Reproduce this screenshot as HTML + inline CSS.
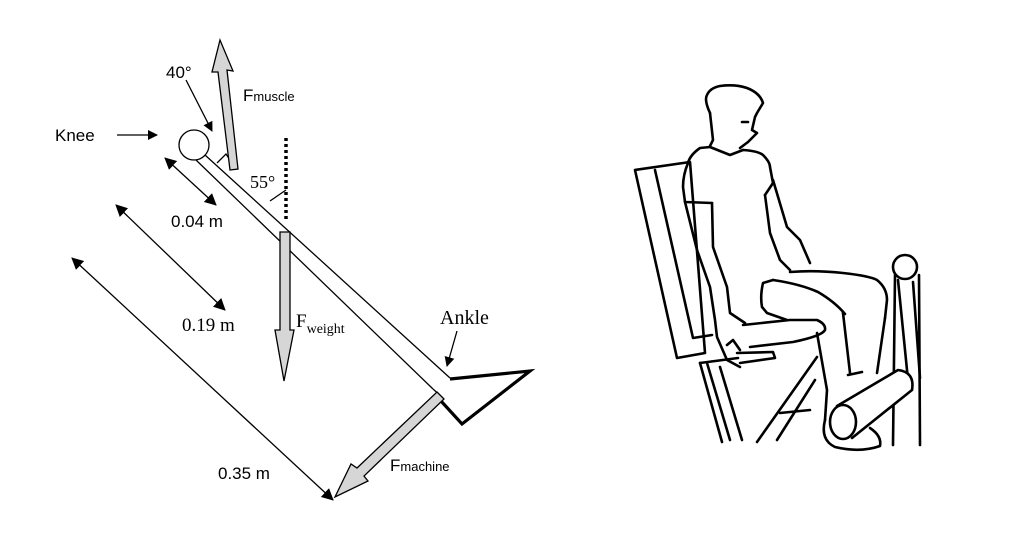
<!DOCTYPE html>
<html><head><meta charset="utf-8"><style>
html,body{margin:0;padding:0;background:#fff;}
svg{display:block;}
text{font-family:"Liberation Sans",sans-serif;}
.serif{font-family:"Liberation Serif",serif;}
</style></head><body>
<svg width="1024" height="533" viewBox="0 0 1024 533" xmlns="http://www.w3.org/2000/svg">
<defs>
<marker id="ah" markerWidth="10" markerHeight="10" refX="9" refY="5" orient="auto" markerUnits="userSpaceOnUse" viewBox="0 0 10 10">
<path d="M0,0 L10,5 L0,10 z" fill="#000"/></marker>
<marker id="ah2" markerWidth="12" markerHeight="12" refX="11" refY="6" orient="auto-start-reverse" markerUnits="userSpaceOnUse" viewBox="0 0 12 12">
<path d="M0,0 L12,6 L0,12 z" fill="#000"/></marker>
</defs>
<g stroke="#000" fill="none" stroke-width="1.3">
<circle cx="194" cy="145" r="15" fill="#fff"/>
<line x1="205" y1="155" x2="450" y2="378"/>
<line x1="196" y1="160" x2="433" y2="389"/>
<line x1="433" y1="389" x2="443" y2="398"/>
<polyline points="450,379 530,371 462,424 441,401" stroke-width="3.2" stroke-linejoin="miter"/>
<line x1="117" y1="135" x2="157" y2="135" marker-end="url(#ah)"/>
<line x1="186" y1="80" x2="212" y2="131" marker-end="url(#ah)"/>
<line x1="457" y1="331" x2="447" y2="366" marker-end="url(#ah)"/>
<line x1="165" y1="158" x2="216" y2="205" marker-start="url(#ah2)" marker-end="url(#ah2)"/>
<line x1="116" y1="205" x2="225" y2="310" marker-start="url(#ah2)" marker-end="url(#ah2)"/>
<line x1="72" y1="258" x2="333" y2="500" marker-start="url(#ah2)" marker-end="url(#ah2)"/>
<polyline points="217,163 226,154 230,160"/>
<polyline points="270,201 286,190"/>
<line x1="286" y1="138" x2="286" y2="220" stroke-width="3.5" stroke-dasharray="3,3"/>
</g>
<polygon points="230,170 238,169 227,70 233,71 220,40 212,72 218,72" fill="#d6d6d6" stroke="#000" stroke-width="1.3"/>
<polygon points="280,232 290,232 290,330 294,330 284,381 275,330 280,330" fill="#d6d6d6" stroke="#000" stroke-width="1.3"/>
<polygon points="437,392 444,399 364,476 368,481 335,497 351,464 357,468" fill="#d6d6d6" stroke="#000" stroke-width="1.3"/>
<text x="55" y="141" font-size="17">Knee</text>
<text x="166" y="78" font-size="17">40°</text>
<text x="243" y="101" font-size="17">F<tspan font-size="13">muscle</tspan></text>
<text class="serif" x="250" y="188" font-size="18">55°</text>
<text x="171" y="227" font-size="17">0.04 m</text>
<text class="serif" x="182" y="331" font-size="19">0.19 m</text>
<text class="serif" x="296" y="327" font-size="19">F<tspan font-size="14" dy="6">weight</tspan></text>
<text class="serif" x="440" y="324" font-size="20">Ankle</text>
<text x="390" y="471" font-size="17">F<tspan font-size="13">machine</tspan></text>
<text x="218" y="479" font-size="17">0.35 m</text>

<g stroke="#000" fill="none" stroke-width="2.6" stroke-linecap="round" stroke-linejoin="round">
<!-- chair back -->
<polygon points="635,170 690,162 705,353 677,358"/>
<polyline points="655,170 693,338 712,335"/>
<!-- frame rails -->
<line x1="700" y1="363" x2="722" y2="442"/>
<line x1="707" y1="363" x2="730" y2="440"/>
<line x1="720" y1="367" x2="742" y2="440"/>
<line x1="700" y1="363" x2="738" y2="358"/>
<line x1="757" y1="442" x2="817" y2="357"/>
<line x1="777" y1="440" x2="815" y2="380"/>
<line x1="780" y1="413" x2="810" y2="410"/>
<!-- seat -->
<path d="M743,325 L790,320 L817,320 Q826,324 825,330 Q822,336 793,342 L750,347"/>
<path d="M737,353 L773,352 L775,358 L740,363"/>
<!-- head -->
<path d="M710,113 Q704,100 707,95 Q710,88 720,86 Q735,84 747,88 Q760,93 763,103 L757,113 L755,117 L752,130 L757,133 L748,142 L740,148"/>
<path d="M710,113 L713,140 L710,146"/>
<line x1="742" y1="122" x2="748" y2="122"/>
<!-- collar & torso -->
<path d="M710,147 L730,155 L743,150"/>
<path d="M710,147 L700,148 Q690,155 688,163 Q683,175 683,187 L685,202 L712,203"/>
<path d="M743,150 Q758,151 763,155 Q770,162 770,167 L773,183 L765,195"/>
<path d="M773,180 L787,227 L800,240 L810,263"/>
<path d="M765,195 L770,233 L780,260 L790,270"/>
<!-- left arm -->
<path d="M685,202 L697,250 L710,287 L715,320 L717,337 L727,360 L740,367"/>
<path d="M712,203 L713,247 L727,287 L730,313 L745,323"/>
<path d="M727,345 L733,340 L740,350"/>
<!-- thigh -->
<path d="M790,272 Q815,270 843,273 Q870,276 877,280 Q887,288 887,300 L885,318"/>
<path d="M773,280 L763,283 Q760,296 762,307 L767,313 L787,320"/>
<path d="M773,280 Q800,284 818,292 Q835,302 845,314 L843,313"/>
<!-- shins -->
<path d="M817,333 L827,390 L825,420"/>
<path d="M843,313 L850,373"/>
<path d="M885,318 L877,373"/>
<path d="M848,375 L862,372"/>
<!-- feet -->
<path d="M825,420 Q820,440 835,447 Q860,453 880,446 Q882,436 870,428"/>
<!-- posts -->
<circle cx="905" cy="267" r="12" fill="#fff"/>
<line x1="895" y1="275" x2="893" y2="445"/>
<line x1="919" y1="275" x2="920" y2="445"/>
<line x1="898" y1="280" x2="908" y2="380"/>
<line x1="913" y1="282" x2="920" y2="378"/>
<!-- cylinder -->
<path d="M837,406 L898,370 Q915,372 912,390 L852,438" fill="#fff"/>
<ellipse cx="843" cy="422" rx="13" ry="17" fill="#fff"/>
</g>
</svg>
</body></html>
